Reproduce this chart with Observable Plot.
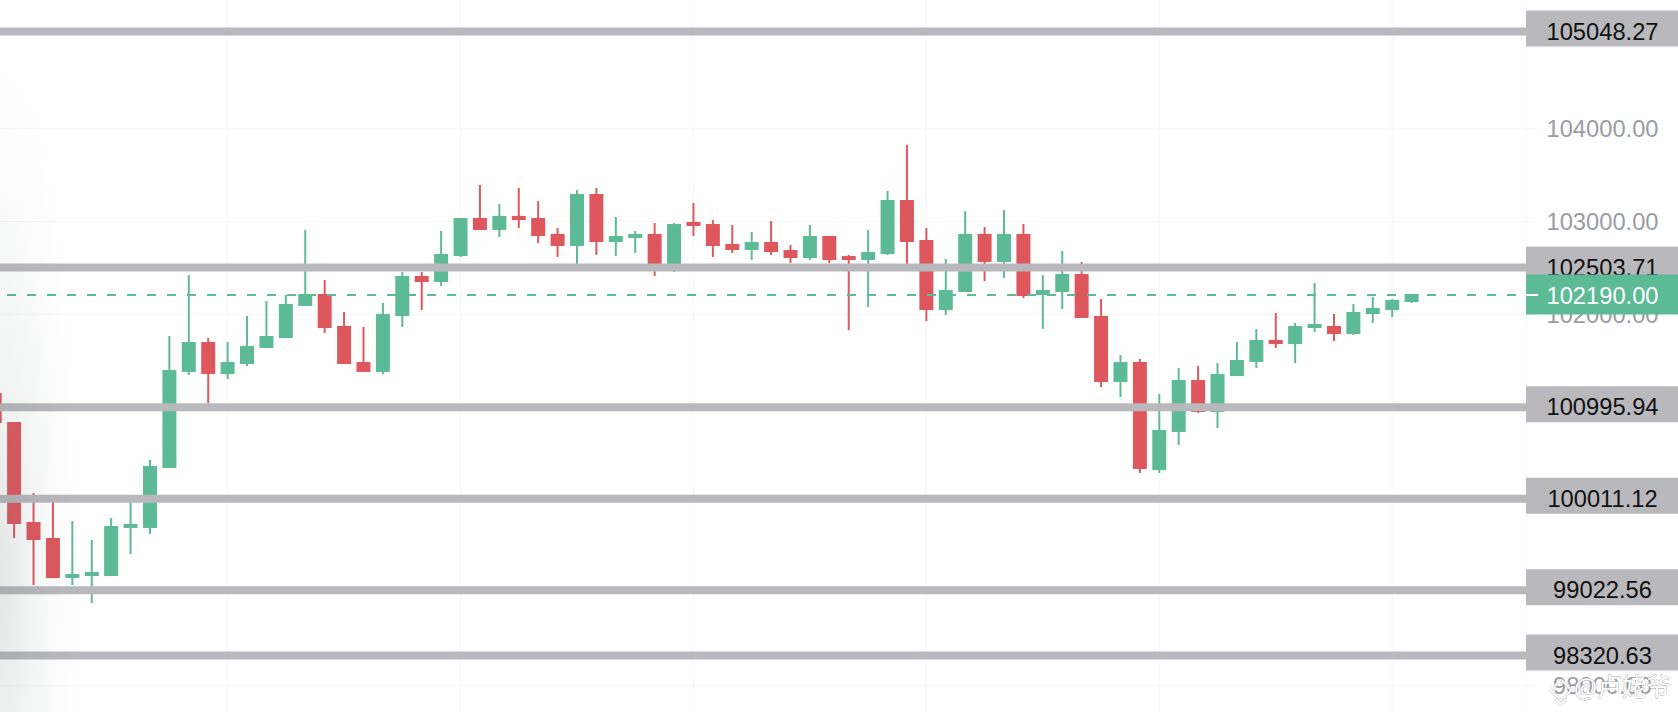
<!DOCTYPE html>
<html>
<head>
<meta charset="utf-8">
<script src="https://cdn.jsdelivr.net/npm/d3@7"></script>
<script src="https://cdn.jsdelivr.net/npm/@observablehq/plot@0.6"></script>
<style>
html,body{margin:0;padding:0;background:#fff;overflow:hidden}
</style>
</head>
<body>
<div id="chart"></div>
<script>
const opens = [101145,100832,99754,99582,99150,99172,99172,99690,99690,100336,101372,101695,101350,101458,101630,101738,102083,102213,101868,101479,101372,101975,102407,102342,102622,103032,102903,103054,103032,102860,102730,103291,102773,102816,102860,102493,102989,102967,102752,102687,102773,102687,102601,102838,102622,102579,102644,103226,102795,102040,102234,102860,102558,102860,102202,102234,102428,101975,101264,101479,100315,100725,101285,100940,101328,101479,101717,101673,101846,101868,101781,101997,102040,102126];
const closes = [100822,99733,99560,99150,99194,99215,99711,99733,100358,101393,101695,101350,101479,101652,101760,102105,102213,101846,101458,101372,101997,102407,102342,102644,103032,102903,103054,103010,102838,102730,103291,102773,102838,102860,102493,102967,102946,102730,102687,102773,102665,102601,102838,102579,102579,102665,103226,102773,102040,102256,102860,102558,102860,102191,102256,102428,101954,101264,101479,100326,100746,101285,100940,101350,101501,101717,101673,101868,101889,101781,102019,102062,102148,102213];
const highs = [101177,100832,100067,100024,99765,99560,99797,99991,100423,101760,102417,101738,101695,101975,102137,102202,102903,102364,102019,101857,102116,102450,102450,102892,103032,103388,103183,103356,103215,102924,103334,103356,103043,102892,102978,102978,103194,103010,102956,102881,103000,102741,102956,102838,102633,102903,103323,103819,102924,102590,103107,102935,103118,102967,102417,102676,102558,102159,101555,101512,101134,101415,101436,101469,101695,101835,102008,101900,102331,101997,102105,102180,102159,102213];
const lows = [100800,99582,99075,99150,99075,98881,99172,99409,99625,100336,101339,101037,101296,101436,101630,101738,102083,101792,101458,101372,101350,101857,102040,102299,102612,102903,102827,102924,102762,102612,102525,102633,102622,102655,102407,102450,102838,102612,102655,102579,102633,102547,102579,102547,101824,102072,102633,102525,101921,101986,102234,102353,102385,102169,101835,102051,101954,101210,101102,100283,100283,100584,100930,100768,101328,101415,101630,101469,101803,101706,101770,101900,101965,102116];

const levels = [105048.27,102503.71,100995.94,100011.12,99022.56,98320.63];
const levelLabels = ["105048.27","102503.71","100995.94","100011.12","99022.56","98320.63"];
const priceTicks = [98000,99000,100000,101000,102000,103000,104000,105000];
const timeTicks = [12,24,36,48,60,72];
const lastPrice = 102190;
const watermark = "@卢姥爷";

const candles = opens.map((o,i)=>({i,o,c:closes[i],h:highs[i],l:lows[i]}));
const ups = candles.filter(d=>d.c>=d.o);
const downs = candles.filter(d=>d.c<d.o);

const GREEN="#5dba97", RED="#de575d", LEVEL="#b9b8bd", GRID="#f6f6f7", TICK="#9b9ca1";
const xDomain=[0.299,86.75], yDomain=[97705.7,105382.5];
const axisStart=78.92, tickEnd=79.5, column=(axisStart+xDomain[1])/2;
const fontFamily='"Liberation Sans", Arial, sans-serif';
const labelSize=23.7;

const defs = () => {
  const s = d3.create("svg:defs");
  const g = s.append("radialGradient").attr("id","edgeShade").attr("cx",0).attr("cy",0.8).attr("r",0.8);
  g.append("stop").attr("offset","0").attr("stop-color","#5a6a66").attr("stop-opacity",0.16);
  g.append("stop").attr("offset","0.4").attr("stop-color","#5a6a66").attr("stop-opacity",0.075);
  g.append("stop").attr("offset","0.75").attr("stop-color","#5a6a66").attr("stop-opacity",0.02);
  g.append("stop").attr("offset","1").attr("stop-color","#5a6a66").attr("stop-opacity",0);
  return s.node();
};

const plot = Plot.plot({
  width:1678,height:712,margin:0,
  style:{fontFamily,background:"#fff"},
  x:{domain:xDomain,range:[0,1678],axis:null},
  y:{domain:yDomain,range:[712,0],axis:null},
  marks:[
    defs,
    Plot.ruleY(priceTicks,{x1:xDomain[0],x2:tickEnd,y:d=>d,stroke:GRID,strokeWidth:1}),
    Plot.ruleX(timeTicks,{x:d=>d,stroke:GRID,strokeWidth:1}),
    Plot.ruleX([axisStart],{x:d=>d,stroke:GRID,strokeWidth:1}),
    Plot.text(priceTicks,{x:column,y:d=>d,text:d=>d.toFixed(2),fill:TICK,fontSize:labelSize,fontFamily,textAnchor:"middle",dy:1}),

    Plot.ruleX(ups,{x:"i",y1:"l",y2:"h",stroke:GREEN,strokeWidth:2}),
    Plot.ruleX(downs,{x:"i",y1:"l",y2:"h",stroke:RED,strokeWidth:2}),
    Plot.ruleX(ups,{x:"i",y1:"o",y2:"c",stroke:GREEN,strokeWidth:14}),
    Plot.ruleX(downs,{x:"i",y1:"o",y2:"c",stroke:RED,strokeWidth:14}),

    Plot.ruleY([lastPrice],{x1:xDomain[0],x2:axisStart,y:d=>d,dy:-1.59,stroke:GREEN,strokeWidth:2,strokeDasharray:"9,11",strokeDashoffset:13}),

    Plot.ruleY(levels,{x1:xDomain[0],x2:axisStart,y:d=>d,stroke:LEVEL,strokeWidth:8}),
    Plot.ruleY(levels,{x1:axisStart,x2:xDomain[1],y:d=>d,dy:-3,stroke:LEVEL,strokeWidth:36}),
    Plot.text(levels,{x:column,y:d=>d,text:(d,i)=>levelLabels[i],fill:"#111",fontSize:labelSize,fontFamily,textAnchor:"middle",dy:0.5}),

    Plot.ruleY([lastPrice],{x1:axisStart,x2:xDomain[1],y:d=>d,dy:-2,stroke:GREEN,strokeWidth:40}),
    Plot.ruleY([lastPrice],{x1:axisStart,x2:tickEnd+0.05,y:d=>d,dy:-1.59,stroke:"#fff",strokeWidth:2}),
    Plot.text([lastPrice],{x:column,y:d=>d,text:d=>d.toFixed(2),fill:"#fff",fontSize:labelSize,fontFamily,textAnchor:"middle",dy:-0.5}),

    Plot.rect([0],{x1:xDomain[0],x2:5.4,y1:yDomain[0],y2:104950,fill:"url(#edgeShade)"}),

    Plot.text(["◇"],{x:80.7,y:98000,text:d=>d,fontSize:30,fill:"#fff",stroke:"#adadb1",strokeWidth:0.8,fontFamily:'"DejaVu Sans"',dy:3}),
    Plot.text(["⌄"],{x:80.7,y:98000,text:d=>d,fontSize:26,fill:"#fff",stroke:"#adadb1",strokeWidth:0.8,fontFamily:'"DejaVu Sans"',dy:11}),
    Plot.text([watermark],{x:83.86,y:98000,text:d=>d,fontSize:24.5,fill:"#fff",stroke:"#a2a2a6",strokeWidth:0.8,fontFamily:'"Noto Sans CJK SC"',textAnchor:"middle",dy:3})
  ]
});
document.getElementById("chart").appendChild(plot);
</script>
</body>
</html>
